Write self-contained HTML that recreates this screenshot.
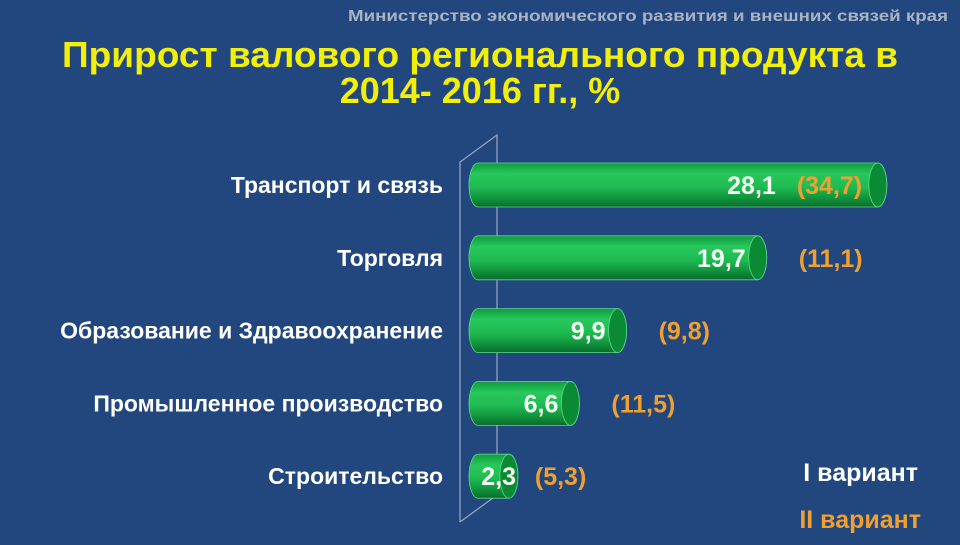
<!DOCTYPE html>
<html><head><meta charset="utf-8"><style>
body{margin:0;width:960px;height:540px;background:#22467e;overflow:hidden;font-family:"Liberation Sans",sans-serif}
</style></head><body>
<svg width="960" height="540">
<defs>
<linearGradient id="g" x1="0" y1="0" x2="0" y2="1">
<stop offset="0" stop-color="#0f9a3e"/><stop offset="0.25" stop-color="#27c85c"/><stop offset="0.55" stop-color="#1fbb52"/><stop offset="0.85" stop-color="#0e8a38"/><stop offset="1" stop-color="#0a6a2a"/>
</linearGradient>
</defs>
<text x="948" y="21" text-anchor="end" font-size="16" font-weight="bold" fill="#a9b3c4" textLength="600" lengthAdjust="spacingAndGlyphs">Министерство экономического развития и внешних связей края</text>
<text x="480" y="67" text-anchor="middle" font-size="36" font-weight="bold" fill="#f2ef0a" textLength="836" lengthAdjust="spacingAndGlyphs">Прирост валового регионального продукта в</text>
<text x="480" y="103" text-anchor="middle" font-size="36" font-weight="bold" fill="#f2ef0a">2014- 2016 гг., %</text>
<g stroke="#9aaac4" stroke-width="1.2" fill="none">
<polyline points="460,522 460,162 497,135 497,495 460,522"/>
</g>
<g id="bars"></g>
<text x="918" y="481" text-anchor="end" font-size="25" font-weight="bold" fill="#ffffff">I вариант</text>
<text x="921" y="528" text-anchor="end" font-size="25" font-weight="bold" fill="#f0a030">II вариант</text>
</svg>
<script>
const categories=["Транспорт и связь","Торговля","Образование и Здравоохранение","Промышленное производство","Строительство"];
const variant1=[28.1,19.7,9.9,6.6,2.3];
const variant2=[34.7,11.1,9.8,11.5,5.3];
const fmt=v=>v.toFixed(1).replace('.',',');
const x0=470,xs=v=>6+14.3*v,yc=i=>185+i*72.8,H=44;
const NS="http://www.w3.org/2000/svg",g=document.getElementById('bars');
function mk(t,a){const e=document.createElementNS(NS,t);for(const k in a)e.setAttribute(k,a[k]);g.appendChild(e);return e;}
categories.forEach((c,i)=>{
 const y=yc(i),end=x0+xs(variant1[i]);
 let t=mk('text',{x:443,y:y+8,'text-anchor':'end','font-size':23,'font-weight':'bold',fill:'#fff'});t.textContent=c;
 
 
 const b=mk('path',{d:`M${x0+8},${y-H/2} L${end},${y-H/2} A9,${H/2} 0 0 1 ${end},${y+H/2} L${x0+8},${y+H/2} A9,${H/2} 0 0 1 ${x0+8},${y-H/2} Z`,fill:'url(#g)',stroke:'#5fd98a','stroke-width':0.8});
 
 
 const cap=mk('ellipse',{cx:end,cy:y,rx:9,ry:H/2,fill:'#0a8a34',stroke:'#5fd98a','stroke-width':0.8});
 
 
 const inside=end+35+75>905;
 const vx=inside?end-102:Math.max(end-12,x0+46);
 const v=mk('text',{x:vx,y:y+9,'text-anchor':'end','font-size':25,'font-weight':'bold',fill:'#f2fff2'});v.textContent=fmt(variant1[i]);
 
 
 const ox=inside?end-81:end+(i==4?26:41);
 const o=mk('text',{x:ox,y:y+9,'font-size':25,'font-weight':'bold',fill:'#f0a030'});o.textContent='('+fmt(variant2[i])+')';
 
 
});
</script>
</body></html>
